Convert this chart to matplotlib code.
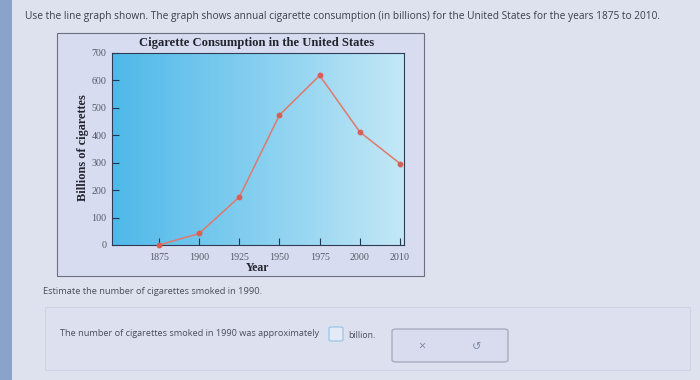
import numpy as np
import matplotlib
matplotlib.use("Agg")
import matplotlib.pyplot as plt
from matplotlib.colors import LinearSegmentedColormap
from matplotlib.patches import Rectangle, FancyBboxPatch

# values (billions of cigarettes)
years = ["1875", "1900", "1925", "1950", "1975", "2000", "2010"]
billions = [0, 42, 175, 474, 618, 412, 297]
y_ticks = [0, 100, 200, 300, 400, 500, 600, 700]

W, H = 700, 380
fig = plt.figure(figsize=(7, 3.8), dpi=100)
fig.patch.set_facecolor("#dee1ee")

def fx(px):
    return px / W

def fy(py):
    return 1 - py / H

# dark strip on the left edge (screen border)
fig.patches.append(Rectangle((0, 0), fx(12), 1, transform=fig.transFigure,
                             facecolor="#8aa3cb", edgecolor="none", zorder=0))

# chart frame
fig.patches.append(Rectangle((fx(57), fy(276)), fx(424 - 57), fy(33) - fy(276),
                             transform=fig.transFigure, facecolor="#d8dcf0",
                             edgecolor="#6b6f80", linewidth=0.8, zorder=0))

ax = fig.add_axes([fx(112), fy(245), fx(404 - 112), fy(53) - fy(245)])
ax.set_zorder(3)
ax.set_facecolor("#8fd3f0")
cmap = LinearSegmentedColormap.from_list("bg", ["#4fb9e9", "#86cff0", "#c3e8f6"])
grad = np.linspace(0, 1, 256).reshape(1, -1)
ax.imshow(grad, extent=[0, 1, 0, 1], transform=ax.transAxes, cmap=cmap,
          aspect="auto", zorder=0)

x = np.arange(len(years))
ax.plot(x, billions, color="#e0796b", linewidth=1.1, marker="o",
        markersize=3.2, markerfacecolor="#d95f55", markeredgecolor="#d95f55",
        zorder=3, clip_on=False)

ax.set_xlim(-1.17, 6.1)
ax.set_ylim(0, 700)
ax.set_xticks(x)
ax.set_xticklabels(years)
ax.set_yticks(y_ticks)
ax.set_yticklabels([str(v) for v in y_ticks])
ax.tick_params(axis="both", direction="in", length=5, width=0.8,
               color="#2a3550", labelsize=7.2, labelcolor="#555a66")
ax.tick_params(axis="x", pad=6)
ax.tick_params(axis="y", pad=4)
for lab in ax.get_xticklabels() + ax.get_yticklabels():
    lab.set_fontfamily("Liberation Serif")
for sp in ax.spines.values():
    sp.set_color("#2f3a55")
    sp.set_linewidth(0.8)

fig.text(fx(257), fy(43), "Cigarette Consumption in the United States",
         ha="center", va="center", fontsize=9.1, fontweight="bold",
         family="Liberation Serif", color="#22252e")
fig.text(fx(258), fy(268), "Year", ha="center", va="center", fontsize=8.5,
         fontweight="bold", family="Liberation Serif", color="#22252e")
fig.text(fx(83), fy(148), "Billions of cigarettes", ha="center", va="center",
         rotation=90, fontsize=8.8, fontweight="bold",
         family="Liberation Serif", color="#22252e")

sans = ["Open Sans", "DejaVu Sans"]
fig.text(fx(25), fy(16),
         "Use the line graph shown. The graph shows annual cigarette consumption "
         "(in billions) for the United States for the years 1875 to 2010.",
         ha="left", va="center", fontsize=7.3, family=sans, color="#3b3f4a")
fig.text(fx(43), fy(292), "Estimate the number of cigarettes smoked in 1990.",
         ha="left", va="center", fontsize=6.7, family=sans, color="#4a4e5a")

# answer panel
fig.patches.append(Rectangle((fx(45), fy(370)), fx(690 - 45), fy(307) - fy(370),
                             transform=fig.transFigure, facecolor="#dde0ee",
                             edgecolor="#cfd2e0", linewidth=0.8, zorder=0))
fig.text(fx(60), fy(334),
         "The number of cigarettes smoked in 1990 was approximately",
         ha="left", va="center", fontsize=6.6, family=sans, color="#4a4e5a")
fig.patches.append(FancyBboxPatch((fx(329), fy(341)), fx(14), fy(327) - fy(341),
                                  boxstyle="round,pad=0,rounding_size=0.003",
                                  transform=fig.transFigure, facecolor="#e4eaf6",
                                  edgecolor="#8fc3e6", linewidth=0.8))
fig.text(fx(348), fy(335), "billion.", ha="left", va="center", fontsize=6.3,
         family=sans, color="#4a4e5a")
fig.patches.append(FancyBboxPatch((fx(392), fy(362)), fx(508 - 392), fy(329) - fy(362),
                                  boxstyle="round,pad=0,rounding_size=0.006",
                                  transform=fig.transFigure, facecolor="#d8dcee",
                                  edgecolor="#a8acbf", linewidth=1.0))
fig.text(fx(422), fy(346), "\u00d7", ha="center", va="center", fontsize=9,
         family=sans, color="#7d8aa8")
fig.text(fx(477), fy(347), "\u21ba", ha="center", va="center", fontsize=8,
         family=["DejaVu Sans"], color="#7d8aa8")

fig.savefig("out.png", dpi=100, facecolor=fig.get_facecolor())
